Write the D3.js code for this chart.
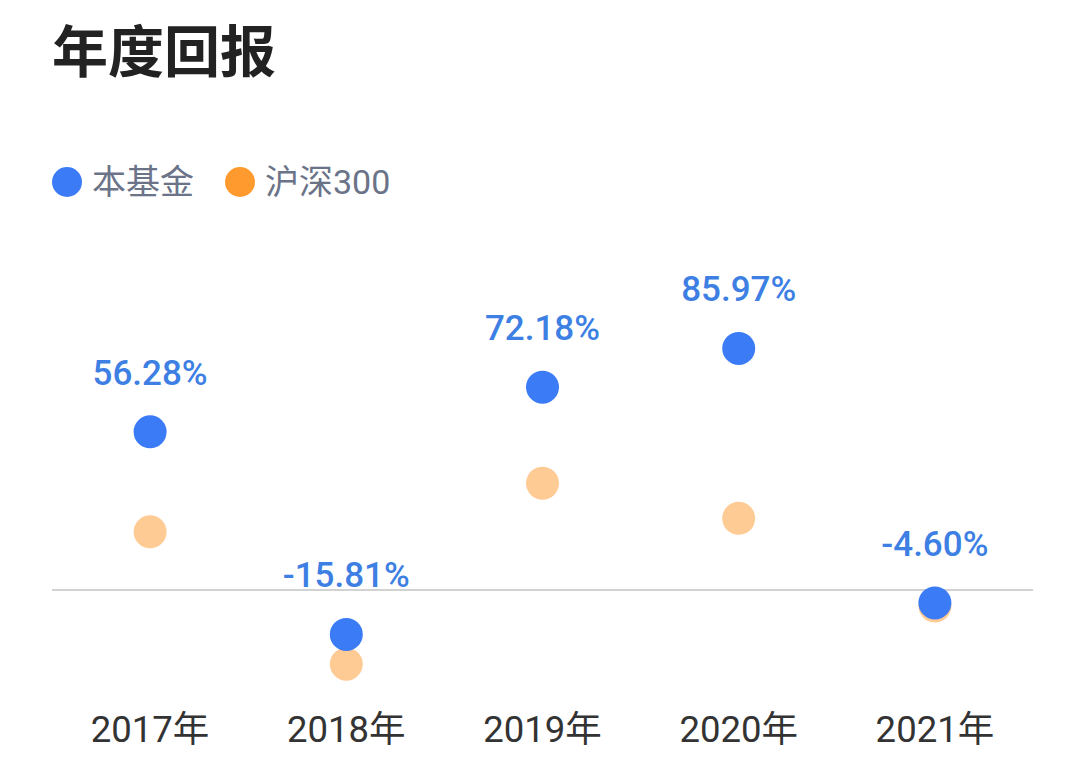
<!DOCTYPE html>
<html>
<head>
<meta charset="utf-8">
<script src="https://cdn.jsdelivr.net/npm/d3@7"></script>
<style>
  body { margin: 0; background: #fff; }
  text { font-family: Roboto, "Noto Sans CJK SC", sans-serif; }
</style>
</head>
<body>
<div id="chart"></div>
<script>
// data
const years = ["2017年", "2018年", "2019年", "2020年", "2021年"];
const fundReturns = [56.28, -15.81, 72.18, 85.97, -4.60];
const indexReturns = [20.7, -26.4, 38.0, 25.5, -5.7];
const seriesNames = ["本基金", "沪深300"];

const width = 1080, height = 777;

const svg = d3.select("#chart")
  .append("svg")
  .attr("width", width)
  .attr("height", height);

// title
svg.append("text")
  .attr("x", 52)
  .attr("y", 72)
  .attr("font-family", "'Noto Sans CJK SC', sans-serif")
  .attr("font-size", 56)
  .attr("font-weight", 700)
  .attr("fill", "#222")
  .text("年度回报");

// legend
const legendColors = ["#3b7cf6", "#ff9a2e"];
const legendX = [67, 240];
seriesNames.forEach((name, i) => {
  const g = svg.append("g").attr("transform", `translate(${legendX[i]},182)`);
  g.append("circle").attr("r", 15).attr("fill", legendColors[i]);
  g.append("text")
    .attr("x", 25)
    .attr("y", 12)
    .attr("font-family", "Roboto, 'Noto Sans CJK SC', sans-serif")
    .attr("font-size", 34)
    .attr("fill", "#6b7388")
    .text(name);
});

// scales
const xScale = d3.scaleBand()
  .domain(years)
  .range([52, 1033])
  .padding(0);

const yScale = d3.scaleLinear()
  .domain([0, 100])
  .range([590, 309]);

const cx = d => xScale(d) + xScale.bandwidth() / 2;

// zero line
svg.append("line")
  .attr("x1", 52)
  .attr("x2", 1033)
  .attr("y1", yScale(0))
  .attr("y2", yScale(0))
  .attr("stroke", "#d2d2d2")
  .attr("stroke-width", 2);

// x axis
const xAxis = svg.append("g")
  .attr("transform", "translate(0,712)")
  .call(d3.axisBottom(xScale).tickSize(0).tickPadding(0));
xAxis.select(".domain").remove();
xAxis.selectAll("text")
  .attr("dy", 30)
  .attr("font-family", "Roboto, 'Noto Sans CJK SC', sans-serif")
  .attr("font-size", 36.5)
  .attr("fill", "#333");

// index points (drawn first, sit below)
svg.selectAll(".idx")
  .data(years)
  .join("circle")
  .attr("class", "idx")
  .attr("cx", d => cx(d))
  .attr("cy", (d, i) => yScale(indexReturns[i]))
  .attr("r", 16.5)
  .attr("fill", "#ffcb95");

// fund points
svg.selectAll(".fund")
  .data(years)
  .join("circle")
  .attr("class", "fund")
  .attr("cx", d => cx(d))
  .attr("cy", (d, i) => yScale(fundReturns[i]))
  .attr("r", 16.5)
  .attr("fill", "#3b7cf6");

// value labels
svg.selectAll(".lbl")
  .data(years)
  .join("text")
  .attr("class", "lbl")
  .attr("x", d => cx(d))
  .attr("y", (d, i) => yScale(fundReturns[i]) - 47)
  .attr("text-anchor", "middle")
  .attr("font-size", 35)
  .attr("font-weight", 500)
  .attr("fill", "#3d7fe3")
  .text((d, i) => fundReturns[i].toFixed(2) + "%");
</script>
</body>
</html>
